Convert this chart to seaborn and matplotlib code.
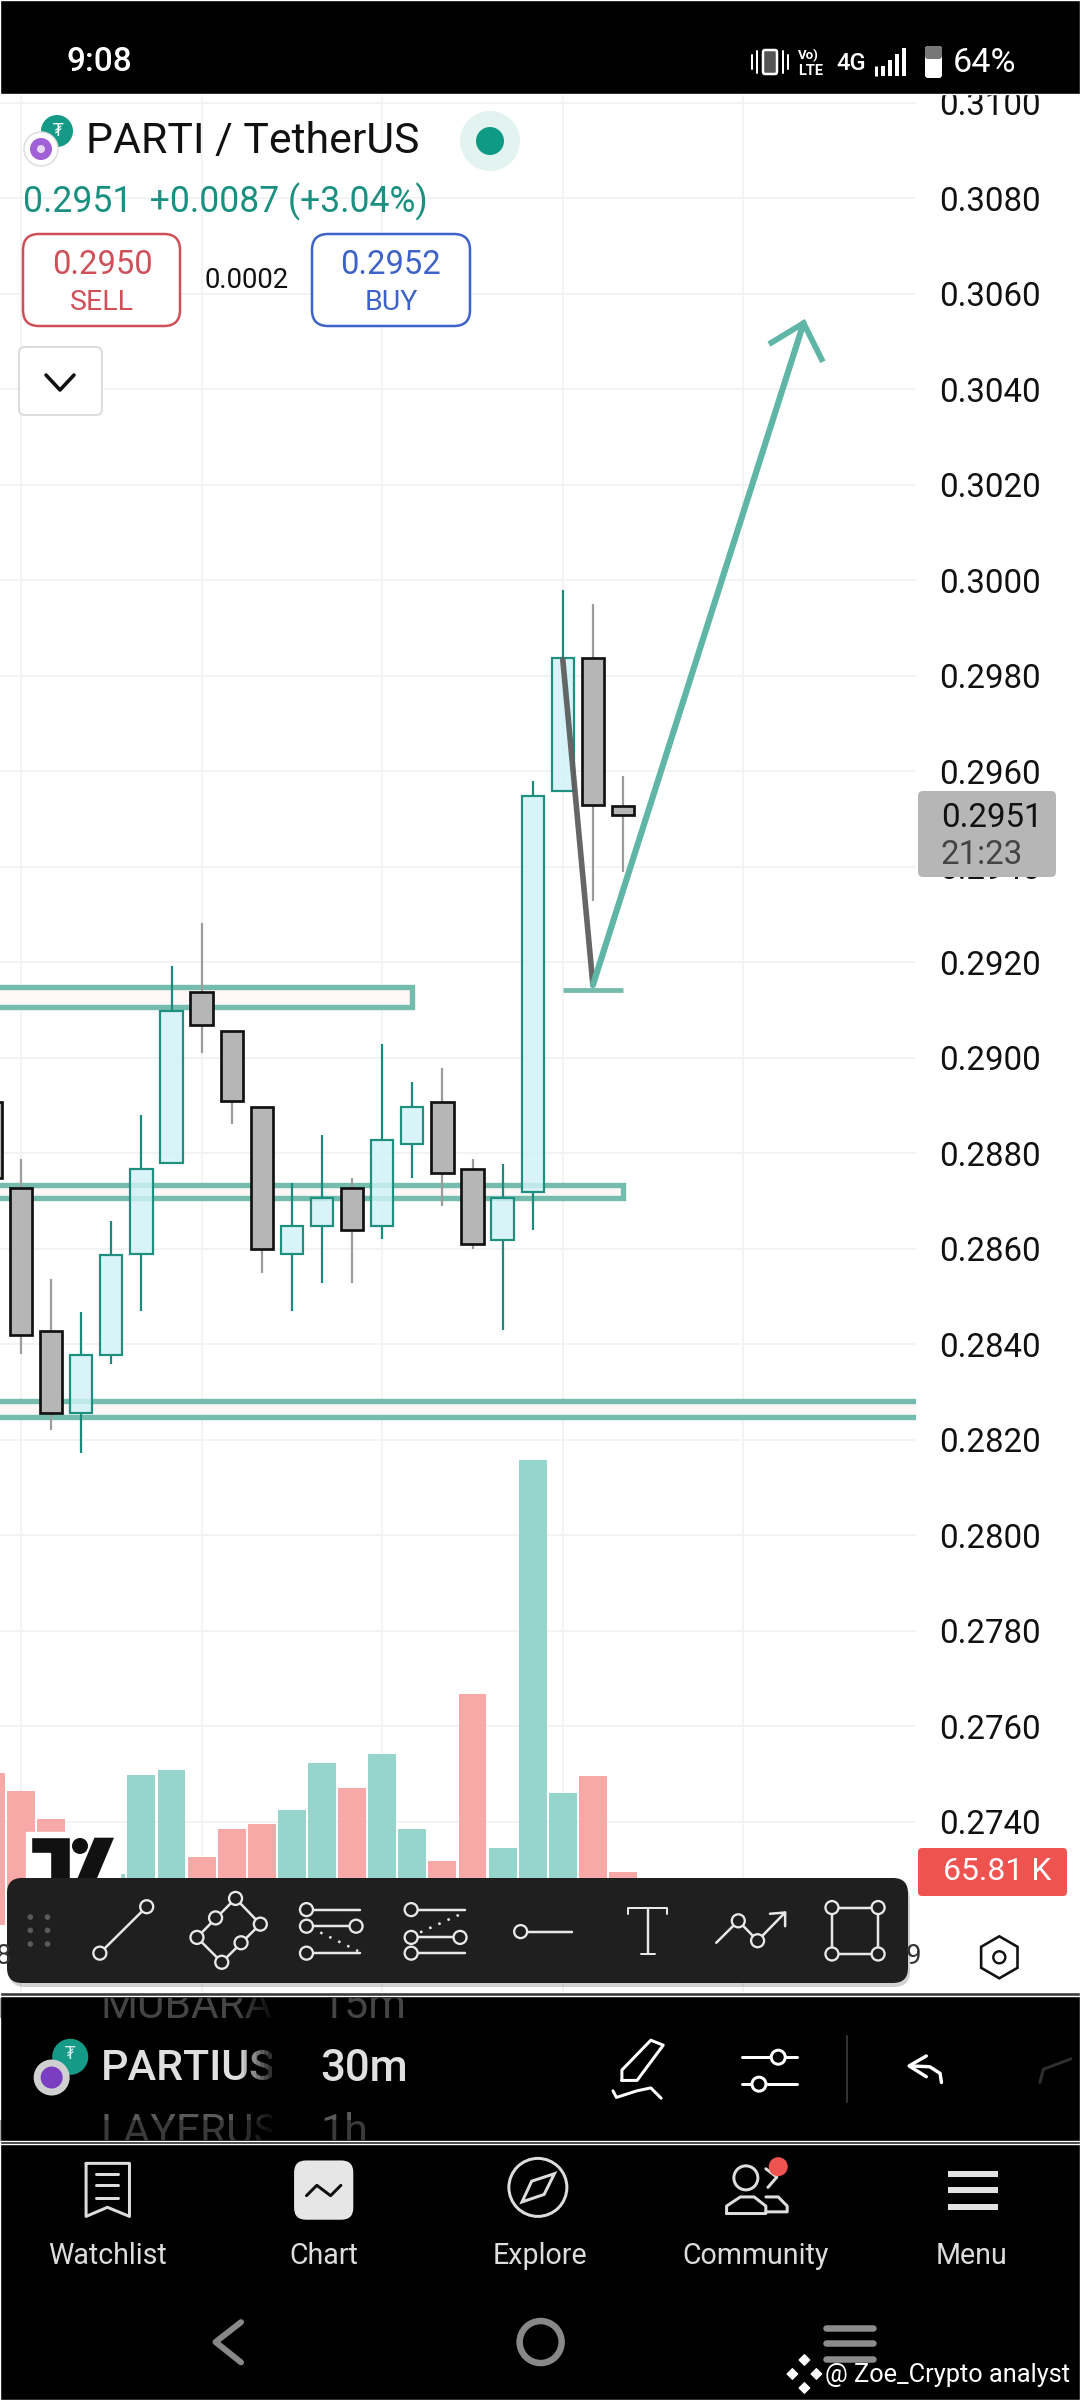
import matplotlib
matplotlib.use("Agg")
import matplotlib.pyplot as plt
import matplotlib.patches as mp
import numpy as np
import pandas as pd
import seaborn as sns

# ---------- data ----------
bar_idx = list(range(-1, 21))
opens = [.28908,.28728,.28428,.28257,.28379,.28589,.28780,.29139,.29057,.28898,.28589,.28649,.28728,.28649,.28820,.28908,.28768,.28618,.28719,.29559,.29838,.29528]
closes = [.28748,.28419,.28257,.28378,.28587,.28768,.29099,.29069,.28910,.28599,.28648,.28706,.28639,.28828,.28898,.28759,.28610,.28706,.29549,.29838,.29530,.29508]
highs = [.28908,.28789,.28538,.28469,.28658,.28880,.29192,.29283,.29057,.28898,.28739,.28838,.28748,.29029,.28950,.28979,.28789,.28779,.29580,.29980,.29951,.29591]
lows = [.28748,.28380,.28220,.28173,.28359,.28470,.28780,.29011,.28861,.28550,.28470,.28529,.28529,.28620,.28748,.28690,.28599,.28430,.28639,.29559,.29329,.29390]
volumes_k = [188.7,166.9,131.6,43.0,63.3,186.3,192.5,84.4,119.2,125.4,142.8,201.2,170.1,212.3,119.2,79.5,286.8,95.6,577.4,163.9,185.0,65.81]

price_ticks = [0.2740 + 0.002 * k for k in range(19)]
time_grid = [0, 6, 12, 18, 24]

zone_tops = [.29148, .28735, .28282]
zone_bottoms = [.29106, .28706, .28248]
zone_ends = [13.0, 20.0, 31.0]
down_leg_x = [18.0, 19.0]
down_leg_p = [.29834, .29153]
up_leg_x = [19.0, 26.0]
up_leg_p = [.29153, .30539]
head_x = [24.85, 26.0, 26.64]
head_p = [.30495, .30539, .30458]
stop_x = [18.0, 20.0]
stop_p = [.29142, .29142]

GREEN_EDGE, GRAY_EDGE = "#1f8f80", "#111111"
DRAW = "#5fb6a6"
ZONE = "#74bdae"

sns.set_theme(style="white")
plt.rcParams["font.family"] = ["Roboto", "DejaVu Sans"]
fig = plt.figure(figsize=(10.8, 24), dpi=100, facecolor="white")
PX = 0.72  # points per pixel

def p_at(y):
    return 0.31 - (y - 103) / 47750

left, right = 0, 916
top, bot = 95, 1995
rect = [left / 1080, (2400 - bot) / 2400, (right - left) / 1080, (bot - top) / 2400]
xlim = ((left - 21) / 30.1, (right - 21) / 30.1)

ax = fig.add_axes(rect, zorder=1)
ax.set_xlim(*xlim)
ax.set_ylim(p_at(bot), p_at(top))
for s in ax.spines.values():
    s.set_visible(False)
ax.set_xticks(time_grid)
ax.set_xticklabels([])
ax.set_yticks(price_ticks)
ax.set_yticklabels([f"{v:.4f}" for v in price_ticks])
ax.yaxis.tick_right()
ax.tick_params(axis="y", length=0, pad=17, labelsize=23.8, labelcolor="#111111")
ax.tick_params(axis="x", length=0)
ax.grid(True, color="#f3f3f3", linewidth=2 * PX)
ax.set_axisbelow(True)

# zones
for t, b, e in zip(zone_tops, zone_bottoms, zone_ends):
    ax.fill_between([xlim[0] - 1, e], b, t, color="#fdf7f7", lw=0, zorder=1.5)
    ax.plot([xlim[0] - 1, e, e, xlim[0] - 1], [t, t, b, b], color=ZONE, lw=5.4 * PX,
            solid_joinstyle="miter", zorder=1.6)

# candles
body_w = 22.3 / 30.1
for i, o, c, h, l in zip(bar_idx, opens, closes, highs, lows):
    up = c >= o
    wc = "#1a8a7c" if up else "#9c9c9c"
    t, b = max(o, c), min(o, c)
    ax.vlines(i, t, h, color=wc, lw=2.2 * PX, zorder=2)
    ax.vlines(i, l, b, color=wc, lw=2.2 * PX, zorder=2)
    if up:
        ax.bar(i, t - b, bottom=b, width=body_w, facecolor=(0.82, 0.95, 0.97, 0.82),
               edgecolor=GREEN_EDGE, linewidth=2.2 * PX, zorder=3)
    else:
        ax.bar(i, t - b, bottom=b, width=body_w, facecolor="#b6b6b6",
               edgecolor=GRAY_EDGE, linewidth=2.7 * PX, zorder=3)

# drawings
ax.plot(stop_x, stop_p, color=ZONE, lw=4.8 * PX, solid_capstyle="butt", zorder=4)
ax.plot(down_leg_x, down_leg_p, color="#5e5e5e", lw=5.6 * PX, solid_capstyle="round", alpha=0.95, zorder=4)
ax.plot(up_leg_x, up_leg_p, color=DRAW, lw=6.2 * PX, solid_capstyle="round", zorder=4.1)
ax.plot(head_x, head_p, color=DRAW, lw=5.8 * PX, solid_capstyle="butt", solid_joinstyle="miter", zorder=4.1)

# volume
df = pd.DataFrame({"idx": bar_idx, "volume": volumes_k,
                   "direction": ["up" if c >= o else "down" for o, c in zip(opens, closes)]})
ax_v = fig.add_axes(rect, zorder=2)
ax_v.patch.set_alpha(0)
sns.barplot(data=df, x="idx", y="volume", hue="direction", native_scale=True, dodge=False,
            palette={"up": "#95d5cc", "down": "#f7a9a8"}, width=0.93, saturation=1,
            legend=False, linewidth=0, ax=ax_v)
k_per_px = 1.2417
ax_v.set_xlim(*xlim)
ax_v.set_ylim((1925 - bot) * k_per_px, (1925 - top) * k_per_px)
ax_v.axis("off")

# ---------- screen furniture ----------
ui = fig.add_axes([0, 0, 1, 1], zorder=5)
ui.set_xlim(0, 1080)
ui.set_ylim(2400, 0)
ui.axis("off")
ui.patch.set_alpha(0)

def rbox(x0, y0, x1, y1, r=0, fc="none", ec="none", lw=0, z=2, alpha=None):
    p = mp.FancyBboxPatch((x0, y0), x1 - x0, y1 - y0, boxstyle=f"round,pad=0,rounding_size={r}",
                          fc=fc, ec=ec, lw=lw * PX, zorder=z, alpha=alpha)
    ui.add_patch(p)
    return p

def line(xs, ys, c="#e8e8e8", w=2.5, z=4, cap="round", ls="-"):
    ui.plot(xs, ys, color=c, lw=w * PX, solid_capstyle=cap, solid_joinstyle="round", ls=ls, zorder=z)

def circ(x, y, r, fc="none", ec="none", w=0, z=5):
    ui.add_patch(mp.Circle((x, y), r, fc=fc, ec=ec, lw=w * PX, zorder=z))

def txt(x, y, s, size, c="black", ha="center", va="center", z=6, **k):
    return ui.text(x, y, s, fontsize=size, color=c, ha=ha, va=va, zorder=z, **k)

def clipped(t, box):
    t.set_clip_path(box)
    t.set_clip_on(True)

def Z(x, y):
    return x / 1.452, 1750 + y / 2.412

def zline(pts, **k):
    a = [Z(*p) for p in pts]
    line([q[0] for q in a], [q[1] for q in a], **k)

def zcirc(x, y, r=6.5, fc="#1f1f1f", ec="#e8e8e8", w=2.3, z=5):
    cx, cy = Z(x, y)
    circ(cx, cy, r, fc=fc, ec=ec, w=w, z=z)

# black bands
ui.add_patch(mp.Rectangle((0, 0), 1080, 94, fc="black", zorder=1))
ui.add_patch(mp.Rectangle((0, 1995), 1080, 405, fc="black", zorder=1))
ui.add_patch(mp.Rectangle((0, 1992), 1080, 4, fc="#3a3a3a", zorder=1.1))

# status bar
txt(66, 62, "9:08", 24, "white", ha="left", weight="medium")
txt(953, 63, "64%", 24.6, "white", ha="left")
txt(836, 63, "4G", 17, "white", ha="left", weight="medium")
txt(798, 56, "Vo)", 9.5, "white", ha="left", weight="bold")
txt(798, 71, "LTE", 10.5, "white", ha="left", weight="bold")
rbox(763, 50, 777, 74, r=2, fc="#555555", ec="white", lw=2.5)
for xx, h in [(752, 7), (757, 11), (783, 11), (788, 7)]:
    line([xx, xx], [62 - h, 62 + h], c="white", w=2)
for xx, y0 in [(883, 66), (890, 60), (897, 54), (904, 48)]:
    line([xx, xx], [y0, 76], c="white", w=4, cap="butt")
line([876, 876], [66, 76], c="white", w=3, cap="butt")
rbox(925, 46, 942, 78, r=3, fc="white")
rbox(925, 46, 942, 59, r=3, fc="#777777")

# header
circ(57, 131, 16, fc="#159a88", z=3)
txt(58, 131, "₮", 12, "white", z=4)
circ(41, 149, 17, fc="white", ec="#dddddd", w=1.5, z=4)
circ(41, 149, 11, fc="#a060d8", z=5)
circ(41, 149, 4, fc="#e8d8f5", z=6)
txt(86, 142, "PARTI / TetherUS", 30.8, "#111111", ha="left")
circ(490, 141, 30, fc="#e2f3f0", z=3)
circ(490, 141, 14, fc="#0e9a85", z=4)
txt(23, 202, "0.2951  +0.0087 (+3.04%)", 25.6, "#1a9080", ha="left")
rbox(23, 234, 180, 326, r=16, fc="white", ec="#d0505a", lw=2.5)
txt(102, 265, "0.2950", 23.6, "#d0505a")
txt(102, 303, "SELL", 20.5, "#d0505a")
txt(247, 280, "0.0002", 19.8, "#111111")
rbox(312, 234, 470, 326, r=16, fc="white", ec="#3d62c8", lw=2.5)
txt(391, 265, "0.2952", 23.6, "#3d62c8")
txt(391, 303, "BUY", 20.5, "#3d62c8")
rbox(19, 347, 102, 415, r=6, fc="white", ec="#dcdcdc", lw=2)
line([46, 60, 74], [375, 390, 375], c="#111111", w=3.6)

# price labels
rbox(918, 791, 1056, 877, r=5, fc="#b6b6b6")
txt(941, 818, "0.2951", 23.8, "#111111", ha="left")
txt(941, 855, "21:23", 23.8, "#444444", ha="left")
rbox(918, 1848, 1067, 1896, r=4, fc="#ef5350")
txt(997, 1872, "65.81 K", 23, "white")

# logo
ui.add_patch(mp.Rectangle((26, 1832), 94, 50, fc="white", zorder=1.5))
ui.add_patch(mp.Polygon([(31, 1837), (70, 1837), (70, 1880), (50, 1880), (50, 1853), (31, 1853)], fc="#111111", zorder=2))
circ(80, 1846, 8, fc="#111111", z=2)
ui.add_patch(mp.Polygon([(94, 1837), (115, 1837), (97, 1880), (76, 1880)], fc="#111111", zorder=2))

# axis stubs and settings
txt(3, 1956, "8", 20, "#333333")
txt(913, 1956, "9", 20, "#333333")
cx, cy = Z(1451, 500)
ui.add_patch(mp.RegularPolygon((cx, cy), 6, radius=21, fc="white", ec="#111111", lw=2.6 * PX, zorder=3))
circ(cx, cy, 6, fc="white", ec="#111111", w=2.4, z=4)

# toolbar
rbox(9, 1884, 910, 1987, r=16, fc="#000000", alpha=0.18, z=2.8)
rbox(7, 1878, 908, 1983, r=15, fc="#1f1f1f", z=3)
for zx in (44, 69):
    for zy in (403, 435, 468):
        a, b = Z(zx, zy)
        circ(a, b, 2.8, fc="#5a5a5a", z=4)
zline([(145, 490), (213, 378)])
zcirc(145, 490); zcirc(213, 378)
zline([(342, 358), (378, 420), (322, 512), (286, 452), (342, 358)])
for q in [(342, 358), (378, 420), (322, 512), (286, 452), (313, 405), (350, 465)]:
    zcirc(*q)
for yy in (385, 425, 490):
    zline([(445, yy), (522, yy)])
zline([(465, 440), (520, 485)], ls=(0, (1, 3)))
for q in [(445, 385), (445, 425), (517, 425), (445, 490)]:
    zcirc(*q)
for yy in (385, 452, 490):
    zline([(597, yy), (675, yy)])
zline([(610, 440), (670, 395)], ls=(0, (1, 3)))
for q in [(597, 385), (597, 452), (668, 452), (597, 490)]:
    zcirc(*q)
zline([(756, 438), (830, 438)])
zcirc(756, 438)
zline([(912, 395), (912, 380), (968, 380), (968, 395)], w=2)
zline([(941, 380), (941, 493)], w=2.4)
zline([(931, 493), (951, 493)], w=2)
zline([(1040, 465), (1072, 412), (1100, 460), (1140, 392)])
zline([(1118, 395), (1140, 392), (1140, 425)])
zcirc(1072, 412); zcirc(1100, 460)
zline([(1208, 380), (1275, 380), (1275, 492), (1208, 492), (1208, 380)])
for q in [(1208, 380), (1275, 380), (1275, 492), (1208, 492)]:
    zcirc(*q)

# symbol selector
clip = mp.Rectangle((0, 1998), 1080, 142, transform=ui.transData)
clip_l = mp.Rectangle((0, 1998), 272, 142, transform=ui.transData)
clipped(txt(101, 2006, "MUBARA", 30.5, "#6a6a6a", ha="left"), clip_l)
clipped(txt(320, 2006, "15m", 31, "#6a6a6a", ha="left"), clip)
clipped(txt(101, 2069, "PARTIUS", 31, "#e0e0e0", ha="left", weight="medium"), clip_l)
clipped(txt(320, 2069, "30m", 31.5, "#e0e0e0", ha="left", weight="medium"), clip)
clipped(txt(101, 2132, "LAYERUS", 30.5, "#5a5a5a", ha="left"), clip_l)
clipped(txt(320, 2132, "1h", 31, "#5a5a5a", ha="left"), clip)
for k in range(8):
    ui.add_patch(mp.Rectangle((240 + k * 4, 1998), 4, 144, fc="black", alpha=0.08 + k * 0.1, zorder=6.5, lw=0))
ui.add_patch(mp.Rectangle((0, 1998), 600, 20, fc="black", alpha=0.35, zorder=6.6, lw=0))
ui.add_patch(mp.Rectangle((0, 2120), 600, 22, fc="black", alpha=0.35, zorder=6.6, lw=0))
a, b = Z(102, 740); circ(a, b, 18, fc="#159a88", z=4)
txt(a, b - 2, "₮", 12, "#d8f0ec", z=4.5)
a, b = Z(75, 790); circ(a, b, 18, fc="#d0d0d0", z=5); circ(a, b, 11, fc="#7a3fc0", z=6)

# pen, sliders, undo
zline([(903, 797), (903, 772), (945, 700), (963, 712), (925, 797), (903, 797)], c="white", w=3)
zline([(890, 822), (895, 838), (925, 822), (945, 815), (960, 840)], c="white", w=3)
zline([(1077, 741), (1157, 741)], c="white", w=3)
zline([(1077, 806), (1157, 806)], c="white", w=3)
zcirc(1130, 741, r=7, fc="black", ec="white", w=3); zcirc(1102, 806, r=7, fc="black", ec="white", w=3)
zline([(1230, 690), (1230, 850)], c="#333333", w=2)
zline([(1345, 738), (1320, 762), (1345, 788)], c="white", w=3.4)
zline([(1322, 762), (1350, 764), (1365, 780), (1367, 802)], c="white", w=3.4)
zline([(1510, 802), (1515, 770), (1555, 745)], c="#2e2e2e", w=3)
ui.add_patch(mp.Rectangle((0, 2141), 1080, 3, fc="#262626", zorder=7))

# bottom tabs
for xx, s in zip([108, 324, 540, 756, 972], ["Watchlist", "Chart", "Explore", "Community", "Menu"]):
    txt(xx, 2256, s, 20.6, "#dddddd")
zline([(125, 997), (188, 997), (188, 1125), (156, 1103), (125, 1125), (125, 997)], c="#dddddd", w=3)
for yy in (1022, 1050, 1080):
    zline([(140, yy), (172, yy)], c="#dddddd", w=3)
x0, y0 = Z(427, 990); x1, y1 = Z(513, 1133)
rbox(x0, y0, x1, y1, r=12, fc="#e6e6e6", z=3)
zline([(445, 1075), (460, 1050), (480, 1075), (495, 1050)], c="#111111", w=3)
a, b = Z(781, 1055); circ(a, b, 29, ec="#dddddd", w=3, z=3)
ui.add_patch(mp.Polygon([Z(805, 1022), Z(790, 1072), Z(758, 1090), Z(772, 1040)], fc="none", ec="#dddddd", lw=3 * PX, zorder=4))
a, b = Z(1083, 1032); circ(a, b, 12, ec="#dddddd", w=3, z=3)
zline([(1112, 1010), (1128, 1030), (1115, 1055)], c="#dddddd", w=3)
zline([(1055, 1118), (1055, 1100), (1075, 1078), (1095, 1078), (1112, 1100), (1112, 1118), (1055, 1118)], c="#dddddd", w=3)
zline([(1112, 1078), (1130, 1078), (1143, 1100), (1143, 1114), (1112, 1114)], c="#dddddd", w=3)
a, b = Z(1130, 1005); circ(a, b, 9.5, fc="#ef5350", z=6)
for yy in (1022, 1062, 1102):
    zline([(1377, yy), (1449, yy)], c="#e2e2e2", w=6, cap="butt")

# navigation bar
zline([(350, 1380), (313, 1428), (350, 1477)], c="#888888", w=6)
a, b = Z(785, 1428); circ(a, b, 21, ec="#888888", w=6.5, z=3)
for yy in (1394, 1431, 1468):
    zline([(1200, yy), (1268, yy)], c="#8c8c8c", w=6.5)
txt(825, 2375, "@ Zoe_Crypto analyst", 18.3, "white", ha="left", z=8)
a, b = Z(1168, 1505)
for dx, dy in [(0, -14), (0, 14), (-12, 0), (12, 0)]:
    ui.add_patch(mp.RegularPolygon((a + dx, b + dy), 4, radius=5.5, orientation=0, fc="white", ec="white", lw=1 * PX, zorder=8))

fig.savefig("out.png", dpi=100)
